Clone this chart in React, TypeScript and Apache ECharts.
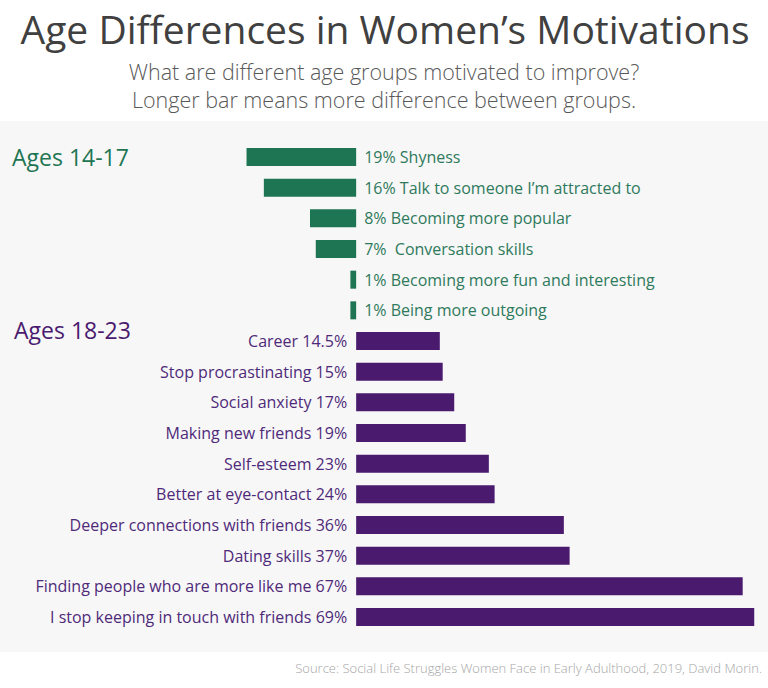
import { useEffect, useRef } from 'react'
import * as echarts from 'echarts'

const youngLabels = ['19% Shyness', '16% Talk to someone I’m attracted to', '8% Becoming more popular', '7%  Conversation skills', '1% Becoming more fun and interesting', '1% Being more outgoing']
const youngValues = [19, 16, 8, 7, 1, 1]
const olderLabels = ['Career 14.5%', 'Stop procrastinating 15%', 'Social anxiety 17%', 'Making new friends 19%', 'Self-esteem 23%', 'Better at eye-contact 24%', 'Deeper connections with friends 36%', 'Dating skills 37%', 'Finding people who are more like me 67%', 'I stop keeping in touch with friends 69%']
const olderValues = [14.5, 15, 17, 19, 23, 24, 36, 37, 67, 69]

const GREEN = '#1e7553'
const PURPLE = '#4a1a6f'
const FONT = '"Open Sans", "Noto Sans", sans-serif'

export default function App() {
  const ref = useRef<HTMLDivElement>(null)

  useEffect(() => {
    document.body.style.margin = '0'
    if (!ref.current) return
    const chart = echarts.init(ref.current, null, { renderer: 'svg' })
    const cats = [...youngLabels, ...olderLabels]
    const youngData = cats.map((_, i) => (i < youngValues.length ? -youngValues[i] : '-'))
    const olderData = cats.map((_, i) => (i >= youngValues.length ? olderValues[i - youngValues.length] : '-'))

    chart.setOption({
      animation: false,
      backgroundColor: '#ffffff',
      graphic: [
        { type: 'rect', z: -10, shape: { x: 0, y: 121, width: 768, height: 531 }, style: { fill: '#f7f7f7' } },
        { type: 'text', style: { text: 'Age Differences in Women’s Motivations', x: 385, y: 28, textAlign: 'center', textVerticalAlign: 'middle', fontSize: 39, fontFamily: FONT, fill: '#404040' } },
        { type: 'text', style: { text: 'What are different age groups motivated to improve?', x: 384, y: 71, textAlign: 'center', textVerticalAlign: 'middle', fontSize: 21.5, fontWeight: 300, fontFamily: FONT, fill: '#595959' } },
        { type: 'text', style: { text: 'Longer bar means more difference between groups.', x: 384, y: 99, textAlign: 'center', textVerticalAlign: 'middle', fontSize: 21.5, fontWeight: 300, fontFamily: FONT, fill: '#595959' } },
        { type: 'text', style: { text: 'Ages 14-17', x: 12, y: 157, textVerticalAlign: 'middle', fontSize: 23, fontFamily: FONT, fill: GREEN } },
        { type: 'text', style: { text: 'Ages 18-23', x: 14, y: 330, textVerticalAlign: 'middle', fontSize: 23, fontFamily: FONT, fill: PURPLE } },
        { type: 'text', style: { text: 'Source: Social Life Struggles Women Face in Early Adulthood, 2019, David Morin.', x: 762, y: 668, textAlign: 'right', textVerticalAlign: 'middle', fontSize: 13, fontWeight: 300, fontFamily: FONT, fill: '#a6a6a6' } },
      ],
      grid: { left: 10, right: 8, top: 141.67, height: 490.67 },
      xAxis: { type: 'value', min: -60, max: 70, show: false },
      yAxis: { type: 'category', data: cats, inverse: true, show: false },
      series: [
        {
          type: 'bar', data: youngData, barWidth: 18, barGap: '-100%', itemStyle: { color: GREEN },
          label: { show: true, position: 'right', distance: 8, color: '#2f7a5c', fontSize: 16, fontFamily: FONT, formatter: (p: any) => youngLabels[p.dataIndex] },
        },
        {
          type: 'bar', data: olderData, barWidth: 18, barGap: '-100%', itemStyle: { color: PURPLE },
          label: { show: true, position: 'left', distance: 9, color: '#4f2a7a', fontSize: 16, fontFamily: FONT, formatter: (p: any) => olderLabels[p.dataIndex - youngLabels.length] },
        },
      ],
    })
    return () => chart.dispose()
  }, [])

  return <div ref={ref} style={{ width: 768, height: 688 }} />
}
